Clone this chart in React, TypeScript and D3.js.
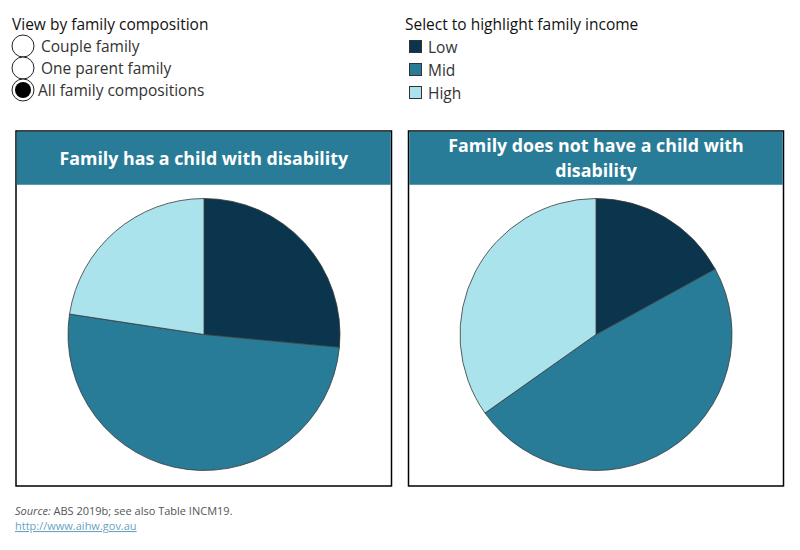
import React from "react";
import * as d3 from "d3";

// income groups, in drawing order (clockwise from 12 o'clock)
const incomeGroups = ["Low", "Mid", "High"];
const incomeColors = ["#0a354c", "#287c97", "#aae3ec"];

// share of families (%) by income group
const withDisability = [26.5, 50.9, 22.6];
const withoutDisability = [17.0, 48.2, 34.8];

const compositions = ["Couple family", "One parent family", "All family compositions"];
const selectedComposition = "All family compositions";

const panelTitles = [
  ["Family has a child with disability"],
  ["Family does not have a child with", "disability"],
];

const FONT = "'Open Sans', 'Noto Sans', sans-serif";

const W = 800;
const H = 550;

const color = d3.scaleOrdinal<string, string>().domain(incomeGroups).range(incomeColors);

type PanelProps = {
  x: number;
  width: number;
  pieX: number;
  title: string[];
  values: number[];
};

const Panel = ({ x, width, pieX, title, values }: PanelProps) => {
  const top = 131;
  const headerH = 53;
  const bottom = 486;
  const cy = 203.5;
  const radius = 136;

  const pie = d3
    .pie<number>()
    .sort(null)
    .value((d) => d);
  const arc = d3.arc<d3.PieArcDatum<number>>().innerRadius(0).outerRadius(radius);
  const arcs = pie(values);

  return (
    <g transform={`translate(${x}, ${top})`}>
      <rect x={0} y={0} width={width} height={bottom - top} fill="#fff" stroke="#000" strokeWidth={1.5} />
      <rect x={0.75} y={0.75} width={width - 1.5} height={headerH} fill="#287c97" />
      {title.map((line, i) => (
        <text
          key={line}
          x={width / 2}
          y={title.length === 1 ? 34 : 21 + i * 25}
          textAnchor="middle"
          fill="#fff"
          fontFamily={FONT}
          fontWeight={700}
          fontSize={17.8}
        >
          {line}
        </text>
      ))}
      <g transform={`translate(${pieX - x}, ${cy})`}>
        {arcs.map((a, i) => (
          <path
            key={incomeGroups[i]}
            d={arc(a) ?? ""}
            fill={color(incomeGroups[i])}
            stroke="#3a3a3a"
            strokeWidth={0.8}
          />
        ))}
      </g>
    </g>
  );
};

export default function App() {
  return (
    <svg width={W} height={H} style={{ position: "absolute", left: 0, top: 0 }}>
      <rect width={W} height={H} fill="#fff" />

      {/* family composition selector */}
      <text x={12} y={30} fontFamily={FONT} fontSize={15.5} fill="#111">
        View by family composition
      </text>
      {compositions.map((c, i) => {
        const y = 46 + i * 22;
        const selected = c === selectedComposition;
        return (
          <g key={c}>
            <circle cx={23} cy={y} r={11} fill="#fff" stroke="#222" strokeWidth={1} />
            {selected && <circle cx={23} cy={y} r={8} fill="#000" />}
            <text x={selected ? 38 : 41} y={y + 6} fontFamily={FONT} fontSize={15.5} fill="#333">
              {c}
            </text>
          </g>
        );
      })}

      {/* income legend */}
      <text x={405} y={30} fontFamily={FONT} fontSize={15.5} fill="#111">
        Select to highlight family income
      </text>
      {incomeGroups.map((g, i) => {
        const y = 46.5 + i * 23;
        return (
          <g key={g}>
            <rect x={409.5} y={y - 6} width={12} height={12} fill={color(g)} stroke="#333" strokeWidth={1} />
            <text x={428} y={y + 6} fontFamily={FONT} fontSize={15.5} fill="#333">
              {g}
            </text>
          </g>
        );
      })}

      <Panel x={16} width={375.5} pieX={204} title={panelTitles[0]} values={withDisability} />
      <Panel x={408.5} width={375} pieX={596} title={panelTitles[1]} values={withoutDisability} />

      {/* footnote */}
      <text x={15} y={515} fontFamily={FONT} fontSize={11} fill="#555">
        <tspan fontStyle="italic">Source:</tspan> ABS 2019b; see also Table INCM19.
      </text>
      <text x={15} y={530} fontFamily={FONT} fontSize={11} fill="#6ba3c2" textDecoration="underline">
        http://www.aihw.gov.au
      </text>
    </svg>
  );
}
